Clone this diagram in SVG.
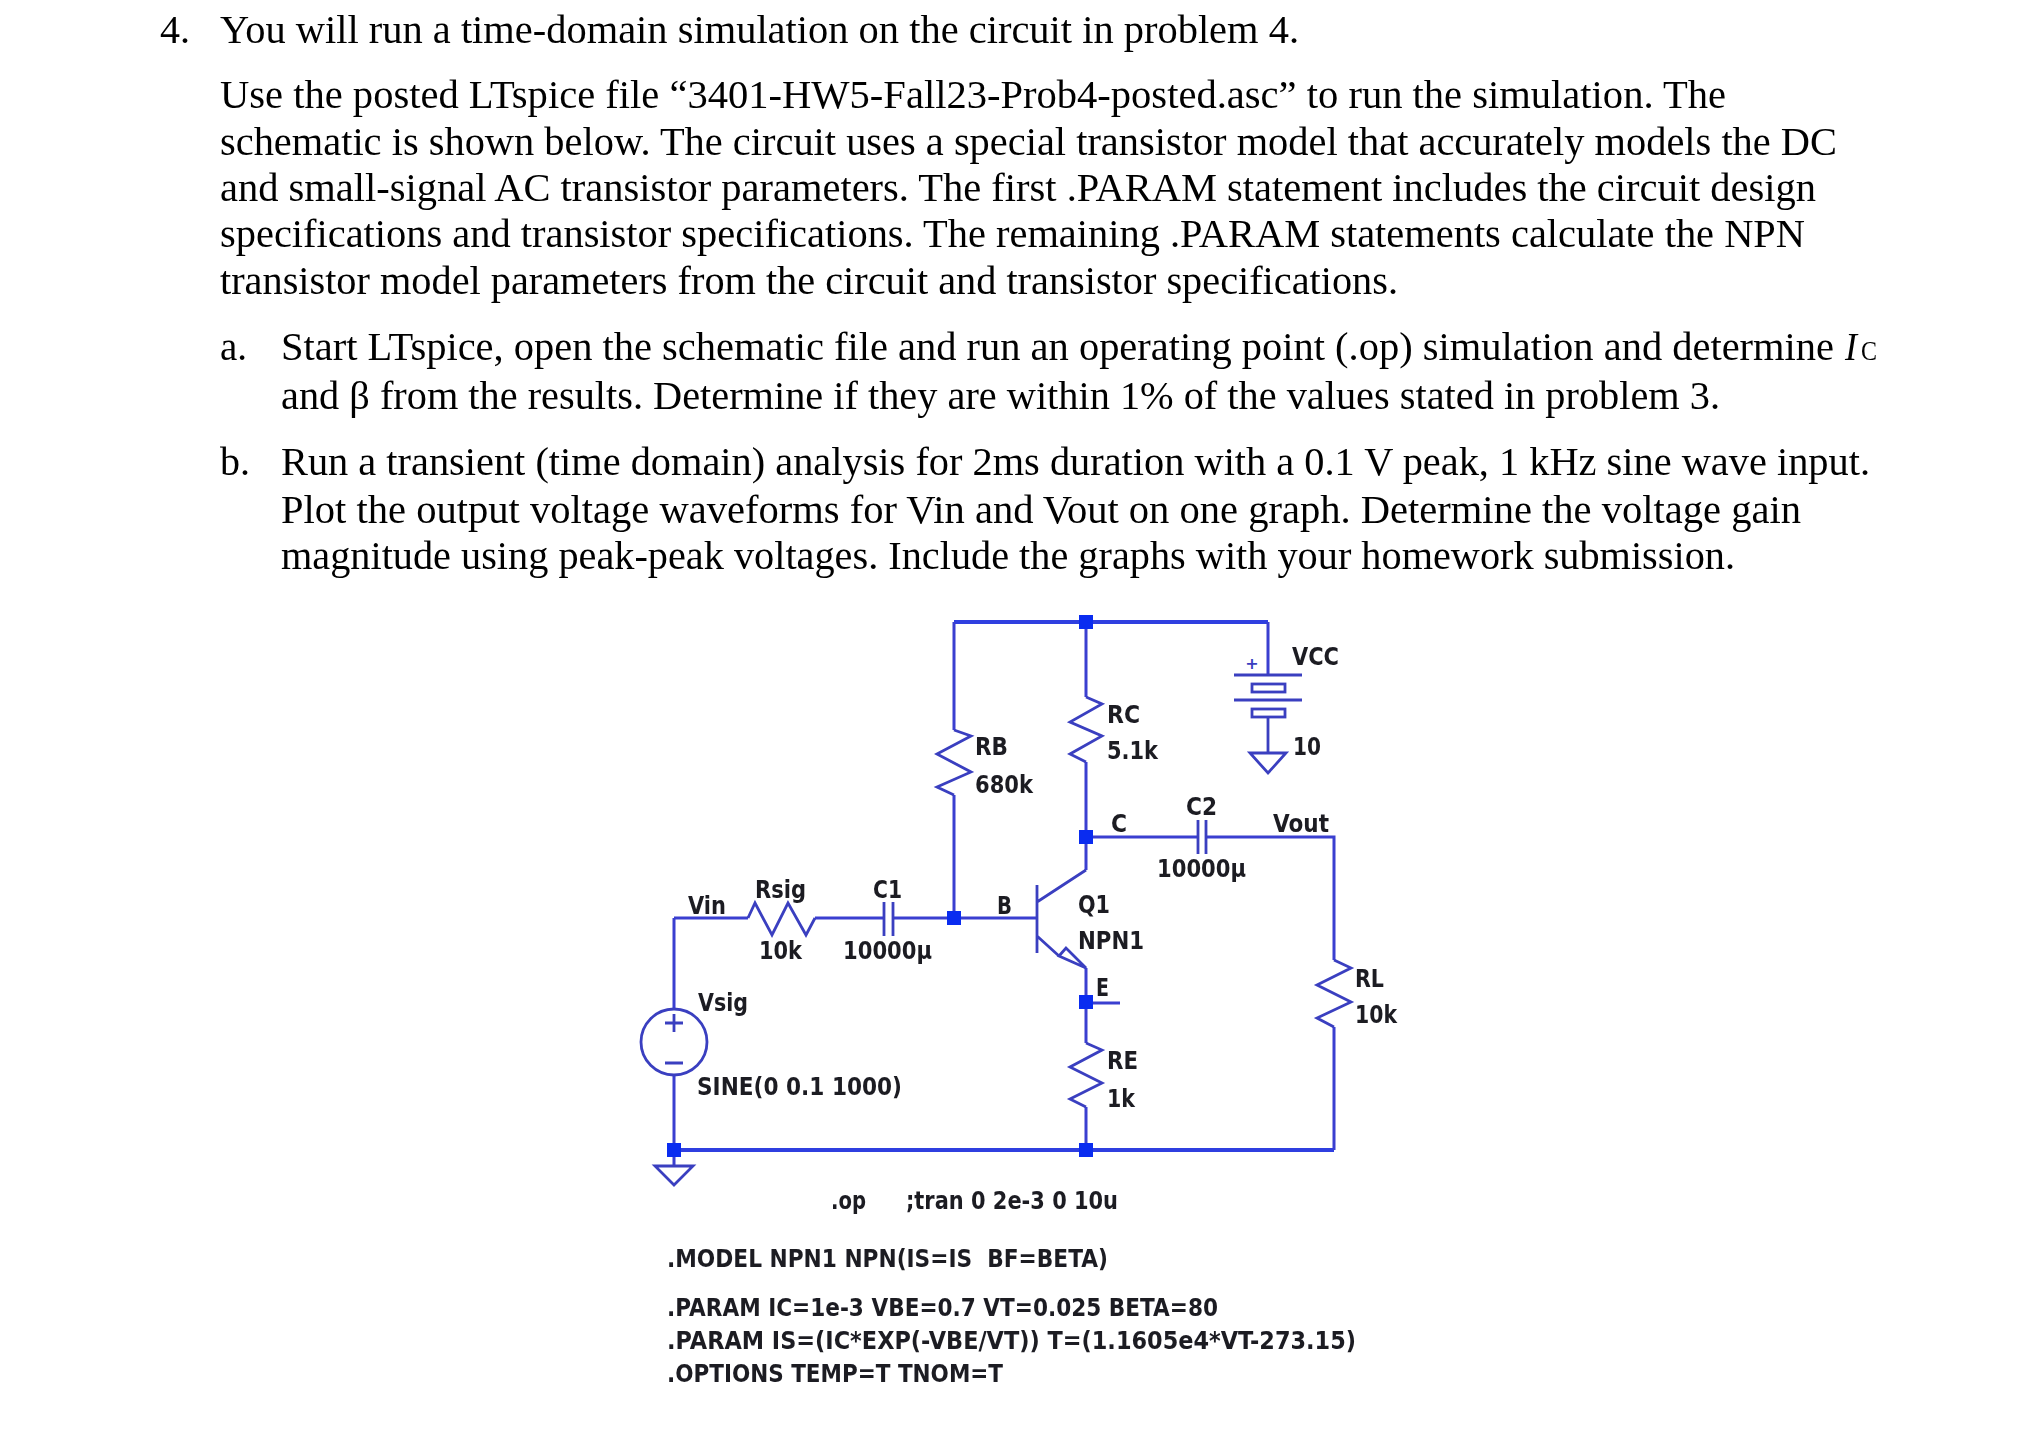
<svg xmlns="http://www.w3.org/2000/svg" width="2023" height="1449" viewBox="0 0 2023 1449">
<style>
.b{font-family:"Liberation Serif","Times New Roman",serif;font-size:41px;fill:#000;filter:url(#soft)}
.s{font-family:"DejaVu Sans",sans-serif;font-size:24px;font-weight:bold;fill:#1c1c24;filter:url(#soft);transform:translateY(1px)}
.w{fill:none;stroke:#3a3fd0;stroke-width:3;stroke-linejoin:miter}
.t{fill:none;stroke:#2f3fe0;stroke-width:4}
.j{fill:#0a2cf0}
.sy{fill:none;stroke:#3a3fc0;stroke-width:2.8}
</style>
<defs><filter id="soft" x="-5%" y="-20%" width="110%" height="140%"><feGaussianBlur stdDeviation="0.45"/></filter><rect id="dot" class="j" x="-7" y="-7" width="14" height="14"/></defs>
<rect width="2023" height="1449" fill="#fff"/>
<g id="problem-text" transform="translate(0,1)">
<text class="b" x="160" y="42" textLength="30" lengthAdjust="spacingAndGlyphs">4.</text>
<text class="b" x="220" y="42" textLength="1079" lengthAdjust="spacingAndGlyphs">You will run a time-domain simulation on the circuit in problem 4.</text>
<text class="b" x="220" y="107" textLength="1506" lengthAdjust="spacingAndGlyphs">Use the posted LTspice file “3401-HW5-Fall23-Prob4-posted.asc” to run the simulation. The</text>
<text class="b" x="220" y="154" textLength="1617" lengthAdjust="spacingAndGlyphs">schematic is shown below. The circuit uses a special transistor model that accurately models the DC</text>
<text class="b" x="220" y="200" textLength="1596" lengthAdjust="spacingAndGlyphs">and small-signal AC transistor parameters. The first .PARAM statement includes the circuit design</text>
<text class="b" x="220" y="246" textLength="1585" lengthAdjust="spacingAndGlyphs">specifications and transistor specifications. The remaining .PARAM statements calculate the NPN</text>
<text class="b" x="220" y="293" textLength="1178" lengthAdjust="spacingAndGlyphs">transistor model parameters from the circuit and transistor specifications.</text>
<text class="b" x="220" y="359" textLength="27" lengthAdjust="spacingAndGlyphs">a.</text>
<text class="b" x="281" y="359" textLength="1553" lengthAdjust="spacingAndGlyphs">Start LTspice, open the schematic file and run an operating point (.op) simulation and determine</text>
<text class="b" x="1845" y="359" font-style="italic" textLength="12" lengthAdjust="spacingAndGlyphs">I</text>
<text class="b" x="1861" y="359" style="font-size:27px" textLength="16" lengthAdjust="spacingAndGlyphs">C</text>
<text class="b" x="281" y="408" textLength="1439" lengthAdjust="spacingAndGlyphs">and β from the results. Determine if they are within 1% of the values stated in problem 3.</text>
<text class="b" x="220" y="474" textLength="30" lengthAdjust="spacingAndGlyphs">b.</text>
<text class="b" x="281" y="474" textLength="1589" lengthAdjust="spacingAndGlyphs">Run a transient (time domain) analysis for 2ms duration with a 0.1 V peak, 1 kHz sine wave input.</text>
<text class="b" x="281" y="522" textLength="1520" lengthAdjust="spacingAndGlyphs">Plot the output voltage waveforms for Vin and Vout on one graph. Determine the voltage gain</text>
<text class="b" x="281" y="568" textLength="1454" lengthAdjust="spacingAndGlyphs">magnitude using peak-peak voltages. Include the graphs with your homework submission.</text>
</g>
<g id="wires">
<path class="t" d="M954 622H1268M674 1150H1334"/>
<path class="w" d="M954 622V730M954 795V918M1086 622V697M1086 762V870M1086 968V1043M1086 1107V1150M1086 1003H1120M1268 622V675M1086 837H1198M1206 837H1334V960M1334 1027V1150M674 918H748M815 918H884M893 918H1037M674 918V1010M674 1075V1165"/>
</g>
<g id="junctions">
<use href="#dot" x="1086" y="622"/><use href="#dot" x="1086" y="837"/><use href="#dot" x="954" y="918"/><use href="#dot" x="1086" y="1002"/><use href="#dot" x="674" y="1150"/><use href="#dot" x="1086" y="1150"/>
</g>
<g id="RB"><path class="sy" d="M954 730L971 736L937 754L971 772L937 787L954 795"/><text class="s" x="975" y="754" textLength="33" lengthAdjust="spacingAndGlyphs">RB</text><text class="s" x="975" y="792" textLength="58" lengthAdjust="spacingAndGlyphs">680k</text></g>
<g id="RC"><path class="sy" d="M1086 697L1102 704L1070 722L1102 736L1070 754L1086 762"/><text class="s" x="1107" y="722" textLength="33" lengthAdjust="spacingAndGlyphs">RC</text><text class="s" x="1107" y="758" textLength="51" lengthAdjust="spacingAndGlyphs">5.1k</text></g>
<g id="VCC"><path class="sy" d="M1234 675H1302M1234 700H1302M1268 717V753M1250 753H1286L1268 773Z"/><rect class="sy" x="1252" y="684" width="33" height="8"/><rect class="sy" x="1252" y="709" width="33" height="8"/><text x="1252" y="669" text-anchor="middle" font-family="DejaVu Sans,sans-serif" font-size="16" font-weight="bold" fill="#3a3fc0">+</text><text class="s" x="1292" y="664" textLength="47" lengthAdjust="spacingAndGlyphs">VCC</text><text class="s" x="1293" y="754" textLength="28" lengthAdjust="spacingAndGlyphs">10</text></g>
<g id="C2"><path class="sy" d="M1198 820V854M1206 820V854"/><text class="s" x="1186" y="814" textLength="31" lengthAdjust="spacingAndGlyphs">C2</text><text class="s" x="1157" y="876" textLength="89" lengthAdjust="spacingAndGlyphs">10000µ</text></g>
<g id="net-labels"><text class="s" x="1111" y="831" textLength="16" lengthAdjust="spacingAndGlyphs">C</text><text class="s" x="1273" y="831" textLength="56" lengthAdjust="spacingAndGlyphs">Vout</text><text class="s" x="688" y="913" textLength="38" lengthAdjust="spacingAndGlyphs">Vin</text><text class="s" x="997" y="913" textLength="15" lengthAdjust="spacingAndGlyphs">B</text><text class="s" x="1096" y="995" textLength="13" lengthAdjust="spacingAndGlyphs">E</text></g>
<g id="Q1"><path class="sy" d="M1037 885V953M1086 870L1037 902M1037 936L1059 956M1059 956L1066 948L1086 968Z"/><text class="s" x="1078" y="912" textLength="32" lengthAdjust="spacingAndGlyphs">Q1</text><text class="s" x="1078" y="948" textLength="66" lengthAdjust="spacingAndGlyphs">NPN1</text></g>
<g id="Rsig"><path class="sy" d="M748 918L755 903L772 935L788 903L806 935L815 918"/><text class="s" x="755" y="897" textLength="51" lengthAdjust="spacingAndGlyphs">Rsig</text><text class="s" x="759" y="958" textLength="43" lengthAdjust="spacingAndGlyphs">10k</text></g>
<g id="C1"><path class="sy" d="M884 902V936M893 902V936"/><text class="s" x="873" y="897" textLength="29" lengthAdjust="spacingAndGlyphs">C1</text><text class="s" x="843" y="958" textLength="89" lengthAdjust="spacingAndGlyphs">10000µ</text></g>
<g id="Vsig"><circle class="sy" cx="674" cy="1042" r="33"/><path class="sy" d="M665 1023H683M674 1014V1032M665 1063H683"/><text class="s" x="698" y="1010" textLength="50" lengthAdjust="spacingAndGlyphs">Vsig</text><text class="s" x="697" y="1094" textLength="205" lengthAdjust="spacingAndGlyphs">SINE(0 0.1 1000)</text></g>
<g id="ground-left"><path class="sy" d="M655 1166H693L674 1185Z"/></g>
<g id="RE"><path class="sy" d="M1086 1043L1102 1050L1070 1067L1102 1083L1070 1099L1086 1107"/><text class="s" x="1107" y="1068" textLength="31" lengthAdjust="spacingAndGlyphs">RE</text><text class="s" x="1107" y="1106" textLength="28" lengthAdjust="spacingAndGlyphs">1k</text></g>
<g id="RL"><path class="sy" d="M1334 960L1351 968L1317 985L1351 1002L1317 1018L1334 1027"/><text class="s" x="1355" y="986" textLength="29" lengthAdjust="spacingAndGlyphs">RL</text><text class="s" x="1355" y="1022" textLength="42" lengthAdjust="spacingAndGlyphs">10k</text></g>
<g id="directives">
<text class="s" x="831" y="1208" textLength="35" lengthAdjust="spacingAndGlyphs">.op</text>
<text class="s" x="906" y="1208" textLength="212" lengthAdjust="spacingAndGlyphs">;tran 0 2e-3 0 10u</text>
<text class="s" x="667" y="1266" textLength="441" lengthAdjust="spacingAndGlyphs" style="white-space:pre">.MODEL NPN1 NPN(IS=IS  BF=BETA)</text>
<text class="s" x="667" y="1315" textLength="551" lengthAdjust="spacingAndGlyphs">.PARAM IC=1e-3 VBE=0.7 VT=0.025 BETA=80</text>
<text class="s" x="667" y="1348" textLength="689" lengthAdjust="spacingAndGlyphs">.PARAM IS=(IC*EXP(-VBE/VT)) T=(1.1605e4*VT-273.15)</text>
<text class="s" x="667" y="1381" textLength="336" lengthAdjust="spacingAndGlyphs">.OPTIONS TEMP=T TNOM=T</text>
</g>
</svg>
